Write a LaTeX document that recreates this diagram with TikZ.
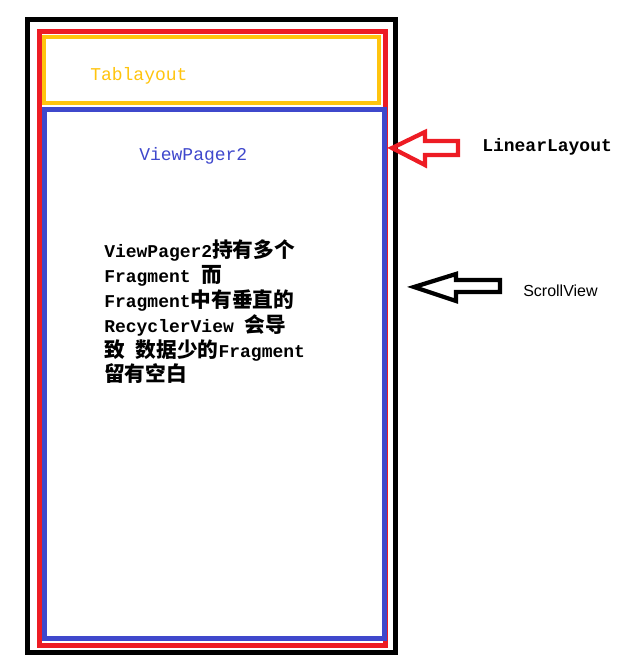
\documentclass[tikz,border=0pt]{standalone}
\usepackage{fontspec}
\setmonofont{Liberation Mono}
\setsansfont{Liberation Sans}
\newfontfamily\cjk{Noto Sans CJK SC}[Scale=1.15]
\definecolor{paintred}{RGB}{237,28,36}
\definecolor{paintgold}{RGB}{255,196,14}
\definecolor{paintblue}{RGB}{63,72,204}
\tikzset{
	frame/.style={draw, line width=3.75pt},
	blockarrow/.style={draw, line width=3.2pt, line join=miter},
	label/.style={anchor=west, inner sep=0, font=\ttfamily\fontsize{13.5}{16}\selectfont}
}

\begin{document}
\begin{tikzpicture}[x=0.75pt, y=-0.75pt]
\useasboundingbox (0,0) rectangle (620,663);
% boxes, outside to inside
\draw[frame, black] (27.5,19.5) rectangle (395,652);
\draw[frame, paintred] (39.5,31.5) rectangle (385.5,645.5);
\draw[frame, paintgold, line width=3pt] (44,37) rectangle (379,103);
\draw[frame, paintblue] (44.5,109.5) rectangle (384,638.5);

% texts
\node[label, text=paintgold] (tablabel) at (90,76) {Tablayout};
\node[label, text=paintblue] (pagerlabel) at (139,156) {ViewPager2};
\node[label, font=\ttfamily\bfseries\fontsize{13.5}{16}\selectfont] (linearlabel) at (482,147) {LinearLayout};
\node[label, font=\sffamily\fontsize{12}{14}\selectfont] (scrolllabel) at (523,291) {ScrollView};
\node[label, align=left, font=\ttfamily\bfseries\fontsize{13.5}{18.6}\selectfont] (pagertext) at (104,312) {%
	ViewPager2{\cjk 持有多个}\\
	Fragment {\cjk 而}\\
	Fragment{\cjk 中有垂直的}\\
	RecyclerView {\cjk 会导}\\
	{\cjk 致} {\cjk 数据少的}Fragment\\
	{\cjk 留有空白}};

% arrows
\draw[blockarrow, paintred] (392,148) -- (425,132) -- (425,141) -- (458,141)
	-- (458,155) -- (425,155) -- (425,165) -- cycle;
\draw[blockarrow, black] (414,287) -- (456,274) -- (456,280) -- (500,280)
	-- (500,292) -- (456,292) -- (456,301) -- cycle;
\end{tikzpicture}
\end{document}
